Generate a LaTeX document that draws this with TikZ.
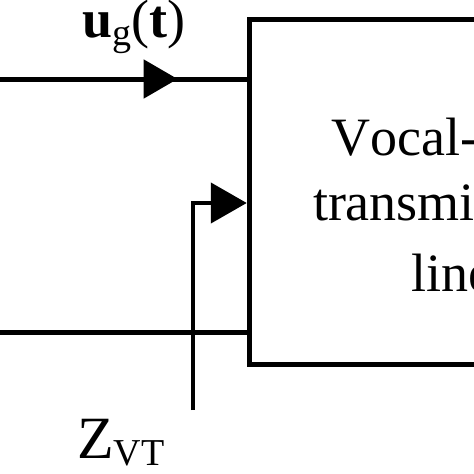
\documentclass[tikz,border=0pt]{standalone}
\usepackage{fontspec}
\setmainfont{Liberation Serif}
\newfontfamily\boxfont[Kerning=Off]{Liberation Serif}
\usetikzlibrary{arrows.meta,decorations.markings,calc}
\begin{document}
\begin{tikzpicture}[x=1pt,y=-1pt,
  wire/.style={line width=5pt},
  midarrow/.style={decoration={markings,mark=at position #1 with {\arrow{Triangle[length=34pt,width=38pt]}}},postaction={decorate}},
  blockbox/.style={draw,line width=5.5pt,rectangle,minimum width=400pt,minimum height=345pt,inner sep=0pt},
  boxtext/.style={font=\boxfont\fontsize{54}{64}\selectfont,anchor=base,inner sep=0pt},
  lbl/.style={anchor=base west,inner sep=0pt}
]
\useasboundingbox (0,0) rectangle (474,474);
\clip (0,0) rectangle (474,474);
% block
\node[blockbox] (vt) at (449.5,192) {};
\node[boxtext] (t1) at (453,155) {Vocal-tract};
\node[boxtext] (t2) at (449.5,220) {transmission};
\node[boxtext] (t3) at (452,291) {line};
% top input wire
\coordinate (ugL) at (0,79);
\draw[wire,midarrow=0.72] (ugL) -- (vt.west |- ugL);
% bottom wire
\coordinate (botL) at (0,332);
\draw[wire] (botL) -- (vt.west |- botL);
% impedance probe
\coordinate (zb) at (193,410);
\coordinate (zp) at (193,203);
\draw[line width=4.5pt,-{Triangle[length=36pt,width=40pt]}] (zb) |- (vt.west |- zp);
% labels
\node[lbl,font=\fontsize{54}{54}\selectfont] (ug) at (82,37) {\textbf{u}\raisebox{-8pt}{\fontsize{38}{38}\selectfont g}(\textbf{t})};
\node[lbl,font=\fontsize{60}{60}\selectfont] (zvt) at (77,458) {Z\raisebox{-7pt}{\fontsize{38}{38}\selectfont VT}};
\end{tikzpicture}
\end{document}
